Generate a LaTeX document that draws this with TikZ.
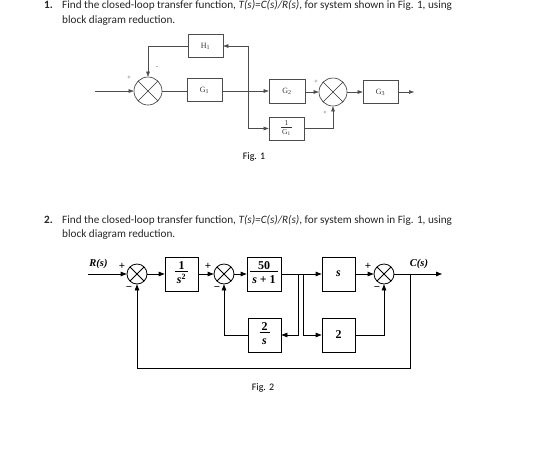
\documentclass[tikz,border=0pt]{standalone}
\usepackage{fontspec}
\setmainfont{Carlito}
\newfontfamily\tnr{Liberation Serif}
\usetikzlibrary{arrows.meta}
\newcommand{\myfr}[2]{\renewcommand{\arraystretch}{0.85}\begin{tabular}{@{\,}c@{\,}}#1\\[-1pt]\hline\rule{0pt}{1.0em}#2\end{tabular}}
\tikzset{
  fa/.style={line width=0.5pt, draw=black!70, -{Triangle[length=5pt,width=3.5pt]}},
  fl/.style={line width=0.5pt, draw=black!70},
  fbox/.style={draw=black!70, line width=0.6pt, minimum width=35pt, minimum height=23pt, inner sep=0pt, font=\tnr\fontsize{8}{8}\selectfont, text=black!80},
  fsum/.style={circle, draw=black!80, line width=0.6pt, minimum size=28pt, inner sep=0pt,
    path picture={\draw[black!80, line width=0.6pt] (path picture bounding box.north west) -- (path picture bounding box.south east)
      (path picture bounding box.north east) -- (path picture bounding box.south west);}},
  fsign/.style={font=\tnr\fontsize{6}{7}\selectfont, text=black!80, inner sep=0pt},
  sa/.style={line width=0.8pt, -{Triangle[length=6pt,width=4.5pt]}},
  sl/.style={line width=0.8pt},
  sbox/.style={draw, line width=0.8pt, minimum width=33pt, minimum height=34pt, inner sep=0pt, font=\tnr\bfseries\fontsize{12}{12}\selectfont},
  ssum/.style={circle, draw, line width=0.8pt, minimum size=20pt, inner sep=0pt,
    path picture={\draw[line width=0.8pt] (path picture bounding box.north west) -- (path picture bounding box.south east)
      (path picture bounding box.north east) -- (path picture bounding box.south west);}},
  ssign/.style={font=\tnr\bfseries\fontsize{11}{11}\selectfont, inner sep=0pt},
  slab/.style={inner sep=0pt, font=\tnr\bfseries\itshape\fontsize{10.5}{11}\selectfont},
  qtext/.style={anchor=base west, inner sep=0pt, font=\fontsize{11.2}{13}\selectfont, text=black!85},
  figlab/.style={inner sep=0pt, font=\fontsize{10}{11}\selectfont}
}
\begin{document}
\begin{tikzpicture}[x=1pt,y=-1pt]
\useasboundingbox[fill=white] (0,0) rectangle (540,472);
% question texts
\node[qtext] (n1) at (44,8.7) {\textbf{1.}};
\node[qtext] (q1a) at (62,8.7) {Find the closed-loop transfer function, \textit{T(s)=C(s)/R(s)}, for system shown in Fig. 1, using};
\node[qtext] (q1b) at (62,23) {block diagram reduction.};
\node[qtext] (n2) at (44,223.3) {\textbf{2.}};
\node[qtext] (q2a) at (62,223.3) {Find the closed-loop transfer function, \textit{T(s)=C(s)/R(s)}, for system shown in Fig. 1, using};
\node[qtext] (q2b) at (62,237.7) {block diagram reduction.};

% ---------- Fig 1 ----------
\coordinate (in1) at (95,91);
\node[fsum] (s1) at (148,91) {};
\node[fbox] (H1) at (205.5,46) {H\textsubscript{1}};
\node[fbox] (G1) at (204.5,90) {G\textsubscript{1}};
\node[fbox, minimum width=36pt, minimum height=24pt] (G2) at (287,91) {G\textsubscript{2}};
\node[fbox] (iG1) at (286.5,128.5) {\fontsize{7.5}{7.5}\selectfont\myfr{1}{G\textsubscript{1}}};
\node[fsum] (s2) at (333,92) {};
\node[fbox] (G3) at (380.5,92) {G\textsubscript{3}};
\coordinate (out1) at (414,92);
\coordinate (b1) at (248,91);
\draw[fa] (in1) -- (s1.west);
\draw[fl] (s1.east) -- (G1.west |- s1.east);
\draw[fa] (G1.east |- b1) -- (G2.west);
\draw[fa] (b1) |- (H1.east);
\draw[fa] (b1) |- (iG1.west);
\draw[fa] (H1.west) -| (s1.north);
\draw[fa] (G2.east |- s2.west) -- (s2.west);
\draw[fa] (iG1.east) -| (s2.south);
\draw[fa] (s2.east) -- (G3.west);
\draw[fa] (G3.east) -- (out1);
\node[fsign] (p1) at (129,78) {+};
\node[fsign] (m1) at (157,68) {-};
\node[fsign] (p2) at (316,82) {+};
\node[fsign] (p3) at (325,113) {+};
\node[figlab] (f1) at (254,157) {Fig. 1};

% ---------- Fig 2 ----------
\coordinate (in2) at (88,274);
\node[ssum] (t1) at (137,274) {};
\node[sbox] (A) at (181.5,274) {\myfr{1}{\textit{s}\textsuperscript{2}}};
\node[ssum] (t2) at (224,274) {};
\node[sbox, minimum width=34pt] (B) at (264,274) {\myfr{50}{\textit{s} + 1}};
\node[sbox] (C) at (264.5,335) {\myfr{2}{\textit{s}}};
\node[sbox] (D) at (338.5,274) {\textit{s}};
\node[sbox] (E) at (338.5,335) {2};
\node[ssum] (t3) at (384,274) {};
\coordinate (out2) at (442,274);
\coordinate (c1) at (298,274);
\coordinate (c2) at (303,274);
\coordinate (c3) at (410,274);
\coordinate (fb) at (410,368);
\draw[sa] (in2) -- (t1.west);
\draw[sa] (t1.east) -- (A.west);
\draw[sa] (A.east) -- (t2.west);
\draw[sa] (t2.east) -- (B.west);
\draw[sa] (B.east) -- (D.west);
\draw[sa] (c1) |- (C.east);
\draw[sa] (c2) |- (E.west);
\draw[sa] (C.west) -| (t2.south);
\draw[sa] (D.east) -- (t3.west);
\draw[sa] (E.east) -| (t3.south);
\draw[sa] (t3.east) -- (out2);
\draw[sa] (c3) -- (fb) -| (t1.south);
\node[slab] (R) at (98.5,264) {R(s)};
\node[slab] (Cs) at (419,264) {C(s)};
\node[ssign] (sp1) at (122,266) {+};
\node[ssign] (sm1) at (129,288) {\textminus};
\node[ssign] (sp2) at (208,266) {+};
\node[ssign] (sm2) at (217,288) {\textminus};
\node[ssign] (sp3) at (368,266) {+};
\node[ssign] (sm3) at (377,288) {\textminus};
\node[figlab] (f2) at (263,388) {Fig. 2};
\end{tikzpicture}
\end{document}
